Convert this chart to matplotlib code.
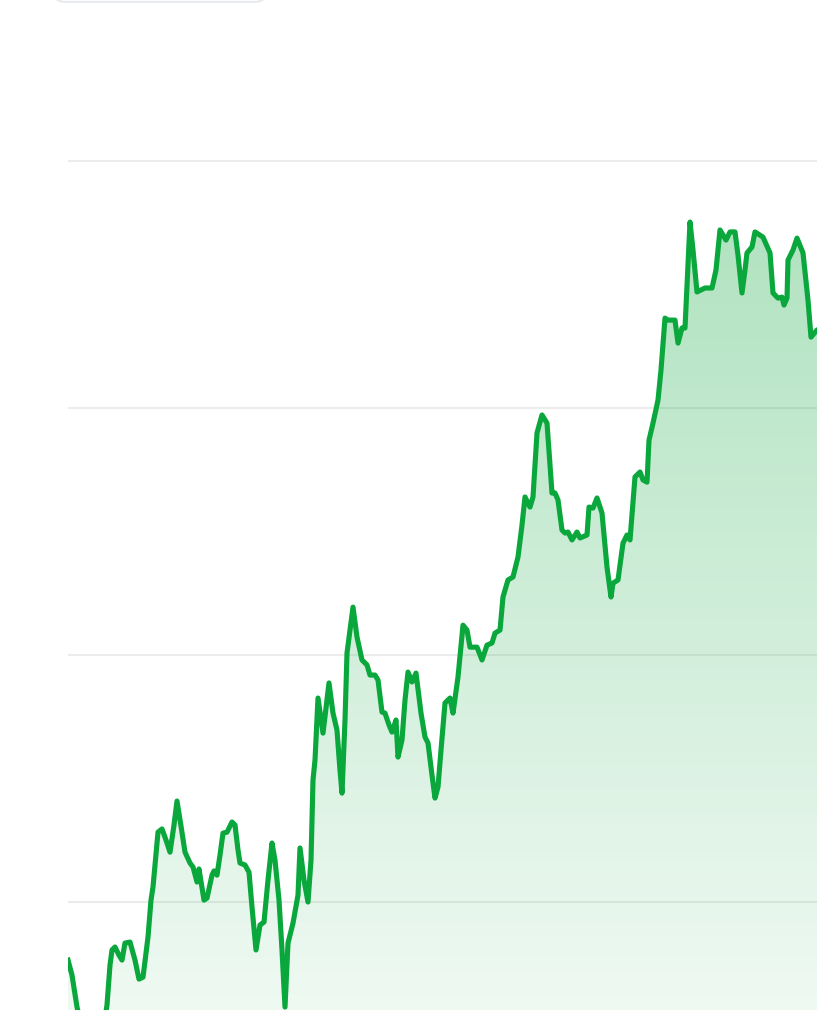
import numpy as np
import matplotlib
matplotlib.use("Agg")
import matplotlib.pyplot as plt
from matplotlib.patches import FancyBboxPatch, Polygon
from matplotlib.transforms import IdentityTransform

# trading days since start of the window
days = [0, 4, 9, 17, 27, 35, 39, 42, 44, 47, 51, 54, 57, 62, 67, 71, 75, 80, 83, 85,
        90, 94, 98, 102, 106, 109, 113, 117, 122, 125, 129, 131, 136, 139, 144, 146, 149, 152, 155, 159,
        164, 167, 170, 172, 177, 181, 184, 188, 192, 196, 200, 204, 207, 211, 214, 217, 220, 225, 230, 232,
        236, 240, 243, 245, 247, 250, 255, 261, 265, 269, 272, 274, 277, 279, 285, 289, 294, 299, 302, 307,
        310, 314, 317, 321, 324, 328, 330, 334, 337, 340, 344, 348, 353, 357, 360, 364, 367, 370, 373, 377,
        382, 385, 390, 395, 399, 402, 409, 414, 419, 424, 427, 432, 435, 440, 445, 450, 454, 457, 462, 465,
        469, 474, 479, 484, 487, 490, 494, 497, 500, 504, 509, 512, 519, 521, 525, 529, 534, 539, 543, 545,
        550, 555, 559, 562, 567, 572, 575, 579, 581, 585, 590, 593, 597, 600, 607, 610, 614, 617, 622, 625,
        629, 637, 644, 648, 652, 658, 662, 667, 670, 674, 677, 679, 684, 687, 695, 702, 705, 710, 714, 716,
        719, 720, 725, 729, 735, 740, 743, 749, 754]

price = [76.5, 70.4, 57.5, 44.1, 42.1, 48.2, 58.3, 74.5, 80.6, 81.8, 78.5, 76.5, 83.4, 83.8, 76.5, 68.8, 69.6, 85.8, 100.8, 106.1,
         128.3, 129.6, 125.1, 120.2, 131.2, 140.9, 130.8, 120.2, 115.8, 114.2, 108.1, 113.4, 100.8, 101.6, 110.9, 112.6, 110.9, 119.0, 127.9, 128.3,
         132.4, 131.2, 121.1, 115.8, 115.0, 112.1, 98.0, 80.6, 90.7, 91.9, 108.9, 123.9, 117.0, 100.8, 80.6, 57.5, 83.4, 91.5, 102.8, 121.9,
         108.9, 100.0, 117.0, 149.4, 157.5, 182.6, 168.4, 188.7, 176.5, 169.6, 153.4, 144.1, 173.7, 200.8, 219.4, 207.3, 198.0, 196.0, 191.9, 191.9,
         189.9, 176.9, 176.5, 171.7, 168.8, 173.7, 158.7, 165.6, 181.8, 193.1, 189.1, 192.7, 176.5, 166.8, 164.4, 151.4, 142.1, 146.6, 161.5, 180.6,
         182.6, 176.5, 191.1, 212.1, 210.1, 203.2, 203.2, 198.0, 204.0, 204.9, 208.9, 210.1, 223.5, 230.4, 231.6, 239.7, 252.6, 264.0, 259.9, 264.0,
         289.9, 297.2, 293.9, 265.6, 265.6, 262.8, 250.6, 249.4, 249.8, 246.6, 249.8, 247.4, 248.6, 259.9, 259.5, 263.6, 257.5, 235.6, 223.5, 229.1,
         230.4, 245.3, 248.6, 246.6, 272.1, 274.1, 270.9, 270.0, 287.0, 293.9, 303.2, 315.4, 336.4, 335.6, 335.6, 326.3, 332.4, 332.4, 375.3, 364.0,
         347.0, 348.6, 348.6, 355.9, 372.1, 368.0, 371.3, 371.3, 361.9, 346.6, 355.9, 362.8, 365.2, 371.3, 369.2, 362.8, 346.6, 344.5, 344.9, 341.7,
         344.5, 359.9, 364.0, 368.8, 362.8, 343.7, 328.7, 331.6, 332.4]

grid_levels = [100, 200, 300, 400]

line_color = "#0aa73c"

fig = plt.figure(figsize=(8.17, 10.10), dpi=100)
ax = fig.add_axes([68 / 817, 0, 1 - 68 / 817, 1])
ax.set_xlim(0, 749)
ax.set_ylim(56.3, 465.2)
ax.axis("off")

for g in grid_levels:
    ax.axhline(g, color="#ececec", lw=1.5, zorder=1)

# gradient area under the line
x = np.array(days, dtype=float)
y = np.array(price)
ymin, ymax = ax.get_ylim()
top = y.max()
grad = np.linspace(0, 1, 256).reshape(-1, 1)
rgba = np.zeros((256, 1, 4))
rgba[..., 0] = 0x0a / 255
rgba[..., 1] = 0xa6 / 255
rgba[..., 2] = 0x3b / 255
rgba[..., 3] = (0.05 + 0.27 * grad)[:, 0:1]
im = ax.imshow(rgba, aspect="auto", origin="lower",
               extent=[x.min(), x.max(), ymin - 20, top], zorder=2)
verts = np.vstack([[x[0], ymin - 20], np.column_stack([x, y]), [x[-1], ymin - 20]])
clip = Polygon(verts, closed=True, facecolor="none", edgecolor="none")
ax.add_patch(clip)
im.set_clip_path(clip)

ax.plot(x, y, color=line_color, lw=3.7, solid_joinstyle="round", zorder=3)

# edge of a rounded control peeking in at the top
btn = FancyBboxPatch((52, 1010 - 2), 216, 60,
                     boxstyle="round,pad=0,rounding_size=14",
                     transform=IdentityTransform(), facecolor="#fbfbfc",
                     edgecolor="#e4e8ee", lw=1.2)
fig.patches.append(btn)

fig.savefig("out.png", dpi=100)
